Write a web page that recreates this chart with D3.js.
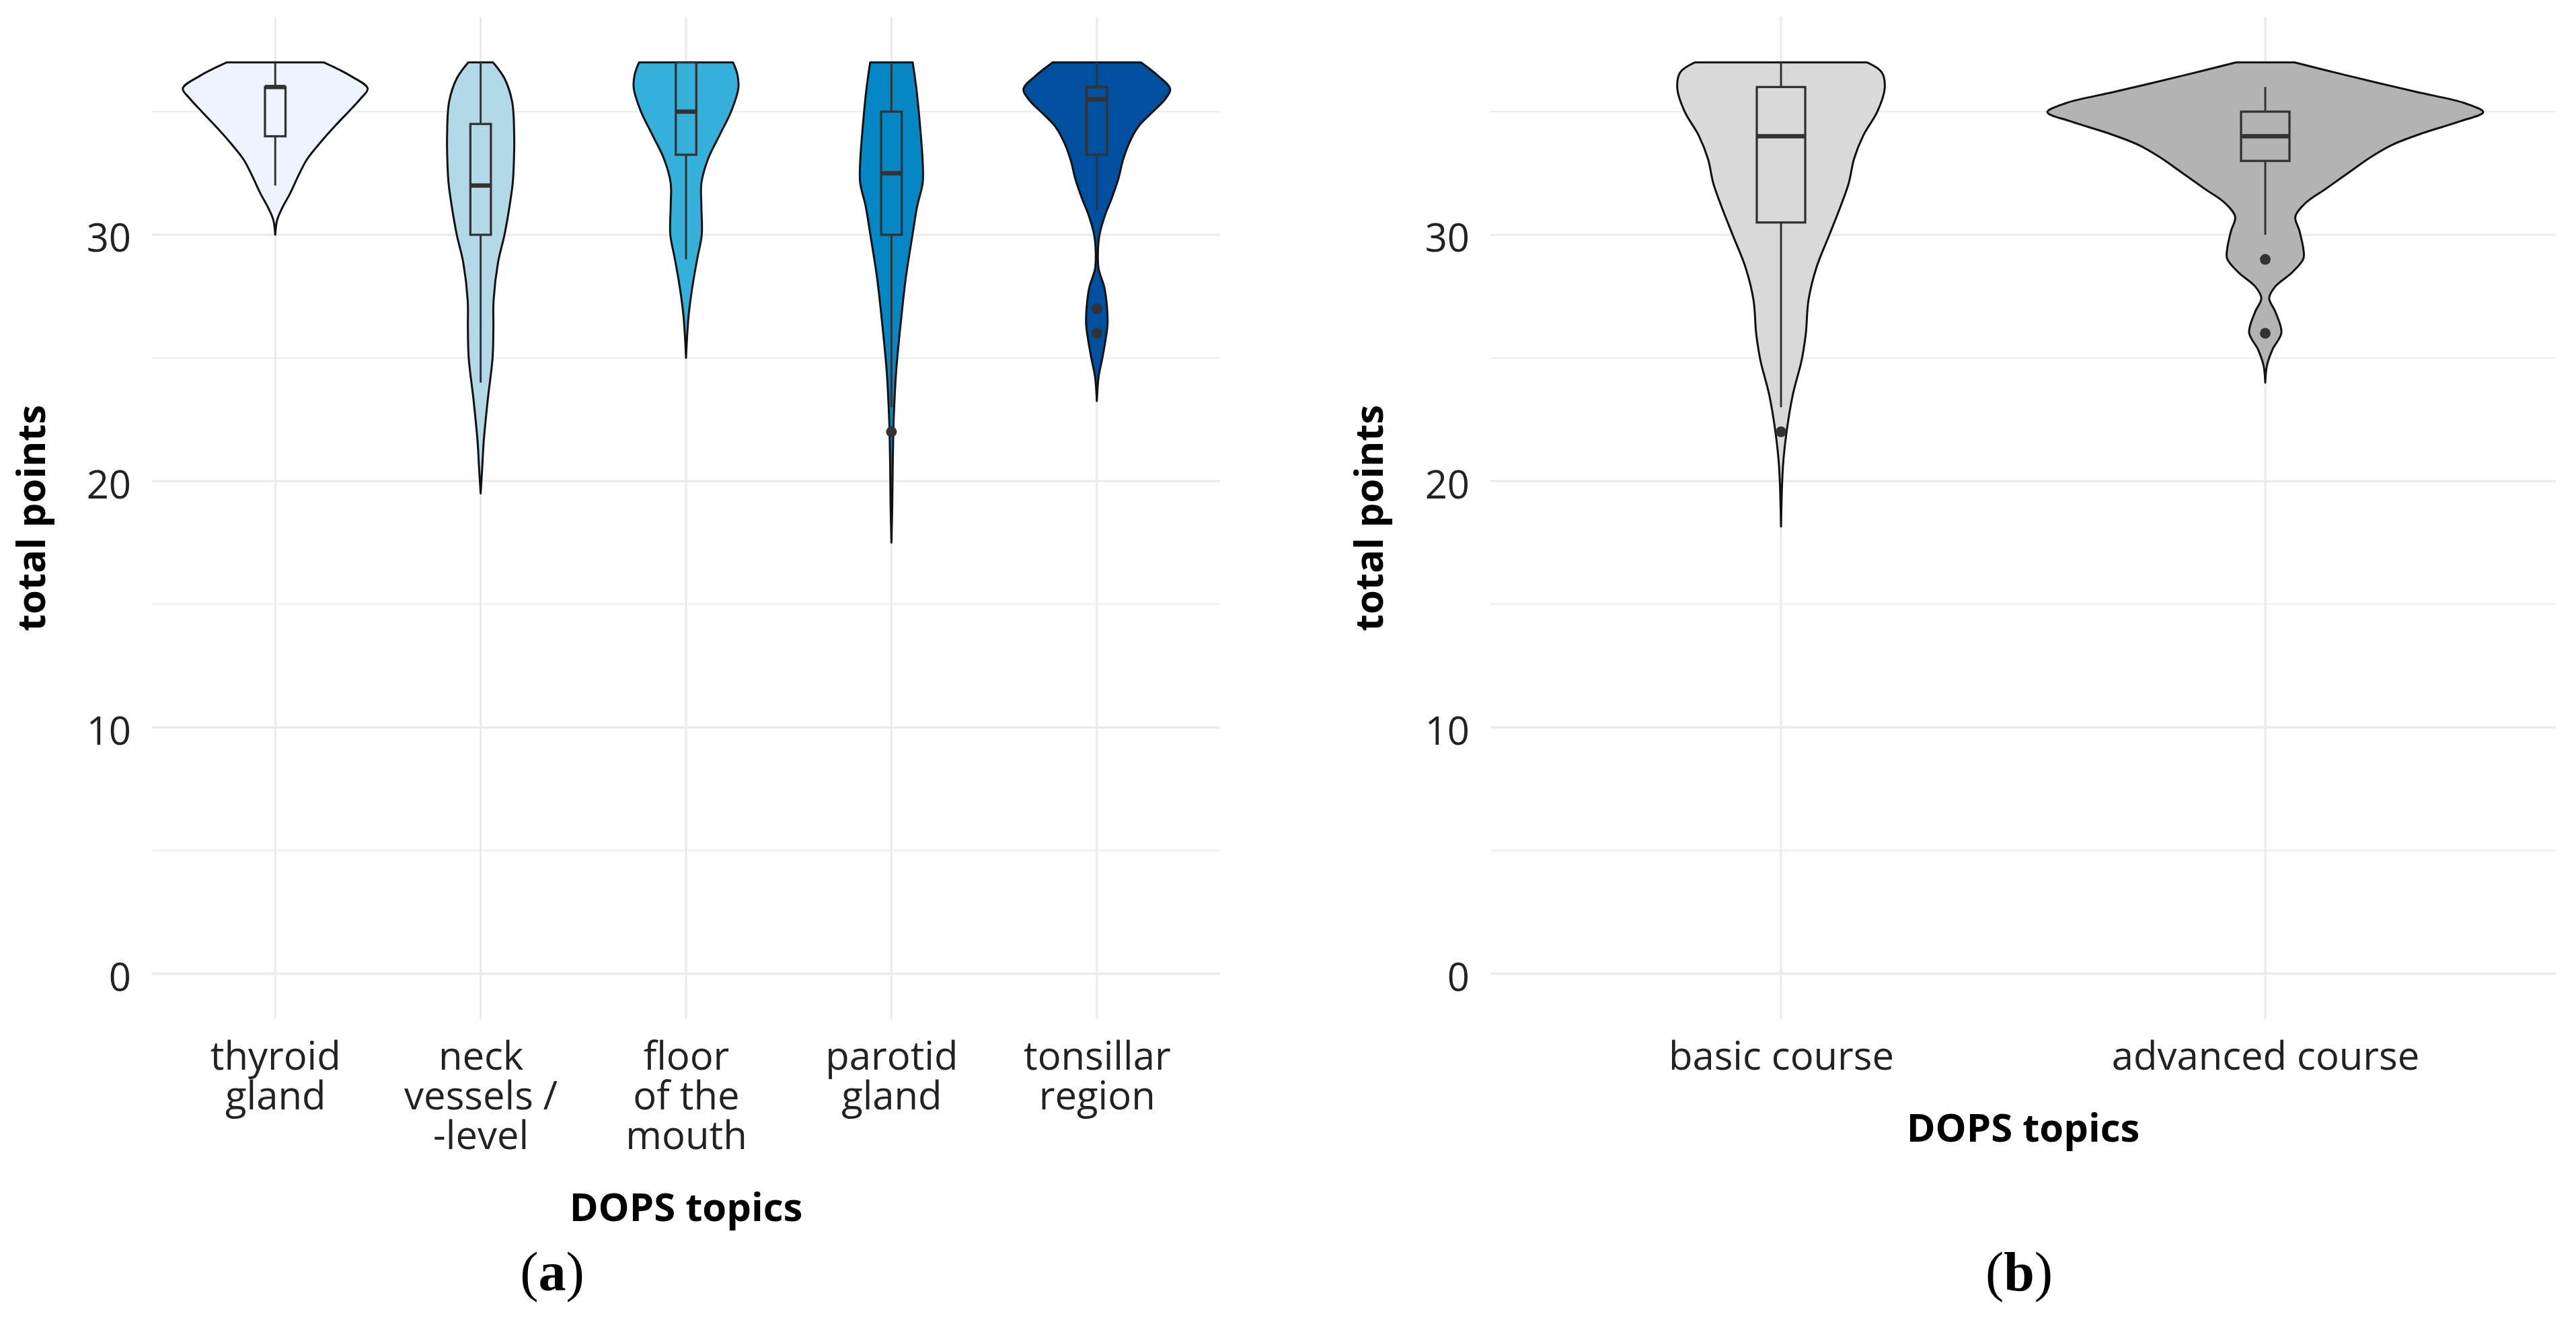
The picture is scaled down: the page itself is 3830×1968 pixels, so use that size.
<!DOCTYPE html>
<html>
<head>
<meta charset="utf-8">
<script src="https://cdn.jsdelivr.net/npm/d3@7"></script>
<style>
  body { margin: 0; background: #fff; }
  svg { display: block; }
</style>
</head>
<body>
<svg id="chart" width="3830" height="1968"></svg>
<script>
// values

const topicsA = ["thyroid gland", "neck vessels / -level", "floor of the mouth", "parotid gland", "tonsillar region"];
const topicLinesA = [["thyroid", "gland"], ["neck", "vessels /", "-level"], ["floor", "of the", "mouth"], ["parotid", "gland"], ["tonsillar", "region"]];
const coursesB = ["basic course", "advanced course"];
const courseLinesB = [["basic course"], ["advanced course"]];

const yTicks = [0, 10, 20, 30];
const yMinorTicks = [5, 15, 25, 35];

// box plot statistics, total points
const whiskerHighA = [37, 37, 37, 37, 37];
const q3A = [36, 34.5, 37, 35, 36];
const medianA = [36, 32, 35, 32.5, 35.5];
const q1A = [34, 30, 33.25, 30, 33.25];
const whiskerLowA = [32, 24, 29, 23, 31];
const outliersA = [[], [], [], [22], [27, 26]];

const whiskerHighB = [37, 36];
const q3B = [36, 35];
const medianB = [34, 34];
const q1B = [30.5, 33];
const whiskerLowB = [23, 30];
const outliersB = [[22], [29, 26]];

// violin outlines: [total points, relative density] (max of each panel = 1)
const densityA = [
    [[30, 0], [30.59, 0.02], [31.05, 0.07], [31.69, 0.162], [32.42, 0.253], [33.06, 0.343], [33.79, 0.498],
     [34.43, 0.65], [35, 0.794], [35.53, 0.924], [35.94, 1], [36.45, 0.816], [37, 0.523]],
    [[19.5, 0], [20.6, 0.018], [21.6, 0.033], [23.3, 0.077], [25, 0.129], [26.2, 0.138], [27.33, 0.14],
     [28.87, 0.188], [30, 0.258], [31.17, 0.313], [32.1, 0.347], [33, 0.36], [34.04, 0.363], [35.4, 0.341],
     [36.35, 0.258], [37, 0.134]],
    [[25, 0], [25.9, 0.012], [26.76, 0.029], [27.9, 0.069], [29.06, 0.123], [30, 0.17], [31.17, 0.166],
     [32.1, 0.166], [33.08, 0.238], [34.04, 0.362], [35, 0.487], [35.96, 0.566], [36.5, 0.556], [37, 0.508]],
    [[17.5, 0], [19, 0.009], [20.63, 0.014], [22, 0.02], [22.93, 0.029], [24.46, 0.051], [26.4, 0.1],
     [28.3, 0.157], [30, 0.228], [31.17, 0.279], [32.1, 0.338], [32.9, 0.339], [34.4, 0.31], [35.96, 0.269],
     [37, 0.23]],
    [[23.25, 0], [24.23, 0.019], [25, 0.06], [25.9, 0.101], [26.39, 0.116], [27.07, 0.11], [27.85, 0.082],
     [28.63, 0.019], [29.32, 0.012], [30, 0.029], [30.78, 0.087], [31.46, 0.159], [32.25, 0.231], [33.02, 0.282],
     [33.7, 0.347], [34.39, 0.448], [35, 0.606], [35.46, 0.729], [35.91, 0.794], [36.45, 0.664], [37, 0.477]]
];

const densityB = [
    [[18.15, 0], [20.6, 0.009], [21.96, 0.025], [23.5, 0.054], [24.92, 0.095], [26, 0.114], [27.34, 0.126],
     [28.68, 0.163], [30, 0.222], [31.17, 0.274], [32.1, 0.311], [33.08, 0.335], [34.04, 0.378], [35, 0.442],
     [35.96, 0.476], [36.6, 0.462], [37, 0.394]],
    [[24, 0], [24.7, 0.008], [25.36, 0.034], [26.02, 0.074], [26.86, 0.047], [27.43, 0.018], [27.9, 0.046],
     [28.47, 0.123], [29.03, 0.175], [29.41, 0.175], [30.16, 0.157], [30.73, 0.138], [31.29, 0.185],
     [31.86, 0.277], [32.52, 0.382], [33.18, 0.489], [33.65, 0.582], [34.12, 0.72], [34.59, 0.888],
     [34.98, 1], [35.34, 0.917], [35.81, 0.689], [36.47, 0.375], [37, 0.134]]
];

const fillsA = ["#eef3ff", "#b3d8e8", "#34b0da", "#0487c4", "#0050a0"];
const fillsB = ["#d9d9d9", "#b3b3b3"];


class ViolinPanel {
    #font = "'Open Sans', 'Noto Sans', sans-serif";
    #grid = "#ebebeb";
    #ink = "#333333";

    constructor(svg, cfg){
        this.g = svg.append("g");
        this.cfg = cfg;

        this.x = d3.scalePoint().domain(cfg.cats).range([cfg.left, cfg.right]).padding(0.6);
        this.y = d3.scaleLinear().domain([-1.85, 38.85]).range([cfg.bottom, cfg.top]);
        this.w = d3.scaleLinear().domain([0, 1]).range([0, this.x.step() * 0.45]);
        this.boxHalf = this.x.step() * 0.05;
    }

    draw(){
        this.drawGrid();
        this.drawAxes();
        this.drawViolins();
        this.drawBoxes();
        this.drawTitles();
    }

    drawGrid(){
        let c = this.cfg;
        let grid = this.g.append("g");

        grid.selectAll(".minor")
            .data(yMinorTicks)
            .join("line")
            .attr("x1", c.left).attr("x2", c.right)
            .attr("y1", d => this.y(d)).attr("y2", d => this.y(d))
            .attr("stroke", this.#grid).attr("stroke-width", 1.8);

        grid.selectAll(".major")
            .data(yTicks)
            .join("line")
            .attr("x1", c.left).attr("x2", c.right)
            .attr("y1", d => this.y(d)).attr("y2", d => this.y(d))
            .attr("stroke", this.#grid).attr("stroke-width", 3.4);

        grid.selectAll(".vert")
            .data(c.cats)
            .join("line")
            .attr("x1", d => this.x(d)).attr("x2", d => this.x(d))
            .attr("y1", c.top).attr("y2", c.bottom)
            .attr("stroke", this.#grid).attr("stroke-width", 3.2);
    }

    drawAxes(){
        let c = this.cfg;

        let ya = this.g.append("g")
            .attr("transform", `translate(${c.left},0)`)
            .call(d3.axisLeft(this.y).tickValues(yTicks).tickSize(0).tickPadding(31));
        ya.select(".domain").remove();
        ya.selectAll("text")
            .attr("font-family", this.#font).attr("font-size", 58)
            .attr("fill", "#222").attr("dy", 25);

        let xa = this.g.append("g")
            .attr("transform", `translate(0,${c.bottom})`)
            .call(d3.axisBottom(this.x).tickSize(0));
        xa.select(".domain").remove();
        xa.selectAll("text").each((d, i, nodes) => {
            let t = d3.select(nodes[i]).text(null).attr("dy", null).attr("y", 0)
                .attr("font-family", this.#font).attr("font-size", 58).attr("fill", "#222");
            c.lines[c.cats.indexOf(d)].forEach((s, k) => {
                t.append("tspan").attr("x", 0).attr("y", 75 + k * 59).text(s);
            });
        });
    }

    violinPath(profile, cx){
        return d3.area()
            .curve(d3.curveCatmullRom.alpha(0.5))
            .y(d => this.y(d[0]))
            .x0(d => cx - this.w(d[1]))
            .x1(d => cx + this.w(d[1]))(profile);
    }

    drawViolins(){
        let c = this.cfg;
        this.g.append("g").selectAll("path")
            .data(c.cats)
            .join("path")
            .attr("d", (d, i) => this.violinPath(c.density[i], this.x(d)))
            .attr("fill", (d, i) => c.fills[i])
            .attr("stroke", "#111")
            .attr("stroke-width", 3)
            .attr("stroke-linejoin", "round");
    }

    drawBoxes(){
        let c = this.cfg;
        let box = this.g.append("g");

        c.cats.forEach((cat, i) => {
            let cx = this.x(cat);
            let b = box.append("g");

            b.append("line")
                .attr("x1", cx).attr("x2", cx)
                .attr("y1", this.y(c.q3[i])).attr("y2", this.y(c.hi[i]))
                .attr("stroke", this.#ink).attr("stroke-width", 3);
            b.append("line")
                .attr("x1", cx).attr("x2", cx)
                .attr("y1", this.y(c.q1[i])).attr("y2", this.y(c.lo[i]))
                .attr("stroke", this.#ink).attr("stroke-width", 3);

            b.append("rect")
                .attr("x", cx - this.boxHalf)
                .attr("width", this.boxHalf * 2)
                .attr("y", this.y(c.q3[i]))
                .attr("height", this.y(c.q1[i]) - this.y(c.q3[i]))
                .attr("fill", c.fills[i])
                .attr("stroke", this.#ink).attr("stroke-width", 3.3);

            b.append("line")
                .attr("x1", cx - this.boxHalf).attr("x2", cx + this.boxHalf)
                .attr("y1", this.y(c.med[i])).attr("y2", this.y(c.med[i]))
                .attr("stroke", this.#ink).attr("stroke-width", 6.5);

            b.selectAll("circle")
                .data(c.out[i])
                .join("circle")
                .attr("cx", cx)
                .attr("cy", d => this.y(d))
                .attr("r", 8)
                .attr("fill", this.#ink);
        });
    }

    drawTitles(){
        let c = this.cfg;
        let midY = (c.top + c.bottom) / 2;

        this.g.append("text")
            .attr("transform", `translate(${c.yTitleX},${midY}) rotate(-90)`)
            .attr("text-anchor", "middle")
            .attr("font-family", this.#font).attr("font-size", 58).attr("font-weight", 700)
            .attr("fill", "#000")
            .text("total points");

        this.g.append("text")
            .attr("x", (c.left + c.right) / 2)
            .attr("y", c.xTitleY)
            .attr("text-anchor", "middle")
            .attr("font-family", this.#font).attr("font-size", 58).attr("font-weight", 700)
            .attr("fill", "#000")
            .text("DOPS topics");

        let tag = this.g.append("text")
            .attr("x", c.tagX).attr("y", 1918)
            .attr("text-anchor", "middle")
            .attr("font-family", "'Liberation Serif', 'DejaVu Serif', serif")
            .attr("font-size", 82).attr("fill", "#000");
        tag.append("tspan").text("(");
        tag.append("tspan").attr("font-weight", 700).text(c.tag);
        tag.append("tspan").text(")");
    }
}

const svg = d3.select("#chart");

new ViolinPanel(svg, {
    cats: topicsA, lines: topicLinesA, fills: fillsA, density: densityA,
    hi: whiskerHighA, q3: q3A, med: medianA, q1: q1A, lo: whiskerLowA, out: outliersA,
    left: 226, right: 1814, top: 25, bottom: 1515,
    yTitleX: 67, xTitleY: 1815, tag: "a", tagX: 821
}).draw();

new ViolinPanel(svg, {
    cats: coursesB, lines: courseLinesB, fills: fillsB, density: densityB,
    hi: whiskerHighB, q3: q3B, med: medianB, q1: q1B, lo: whiskerLowB, out: outliersB,
    left: 2216, right: 3800, top: 25, bottom: 1515,
    yTitleX: 2056, xTitleY: 1697, tag: "b", tagX: 3002
}).draw();
</script>
</body>
</html>
